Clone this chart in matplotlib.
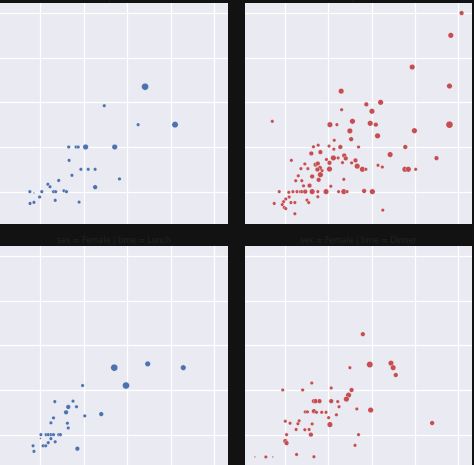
"""Tips facet grid (sex x time): tip vs total_bill, marker area by party size."""

import numpy as np
import matplotlib
matplotlib.use("Agg")
import matplotlib.pyplot as plt

BG = "#121212"
PANEL = "#EAEAF2"
TXT = "#232323"
COL = {"Lunch": "#4C72B0", "Dinner": "#C44E52"}
W, H = 474, 465

# sex = Male | time = Lunch
ml_bill = [34.1, 41.0, 24.7, 32.5, 16.5, 18.2, 18.7, 20.4, 27.1, 16.6, 17.25, 19.3, 21.0, 22.6, 28.2, 22.6,
           14.2, 11.7, 12.2, 10.3, 7.55, 8.5, 9.8, 13.0, 13.5, 15.4, 16.0, 7.6, 8.5, 13.4, 18.9]
ml_tip = [6.7, 5.0, 5.85, 5.0, 4.0, 4.0, 4.0, 4.0, 4.0, 3.4, 2.73, 3.0, 3.0, 3.0, 2.57, 2.2,
          2.5, 2.33, 2.22, 2.0, 2.0, 1.94, 1.76, 2.0, 2.0, 2.04, 2.0, 1.47, 1.52, 1.61, 1.53]
ml_size = [6, 5, 2, 2, 2, 2, 2, 4, 4, 2, 2, 2, 2, 2, 2, 3,
           2, 2, 2, 2, 2, 1, 2, 2, 2, 2, 2, 2, 2, 2, 2]

# sex = Male | time = Dinner
md_bill = [50.8, 48.3, 39.4, 48.0, 48.0, 23.0, 23.1, 7.1, 28.8, 32.1, 30.1, 25.6, 20.4, 22.0, 29.7, 31.0,
           25.0, 31.4, 39.9, 25.3, 37.8, 34.3, 45.0, 37.7, 38.5, 40.2, 32.6, 31.5, 32.5, 30.2, 28.3, 27.9,
           26.7, 21.4, 16.6, 17.7, 20.2, 21.3, 22.8, 27.0, 16.1, 18.2, 19.6, 20.3, 21.2, 22.3, 23.7, 24.05,
           23.3, 26.3, 25.4, 28.7, 11.5, 14.6, 13.7, 15.3, 17.1, 17.6, 18.1, 17.5, 18.6, 18.2, 17.8, 16.3,
           15.7, 13.1, 12.5, 13.9, 14.3, 20.6, 23.6, 20.3, 8.7, 10.9, 11.85, 12.8, 13.6, 13.9, 14.7, 16.3,
           17.6, 19.5, 22.4, 23.6, 24.35, 11.0, 10.2, 9.7, 9.4, 9.86, 10.2, 11.4, 12.3, 7.55, 15.1, 15.5,
           17.6, 12.3]
md_tip = [10.0, 9.0, 7.58, 6.73, 5.0, 6.5, 5.67, 5.15, 5.91, 6.0, 5.6, 5.15, 5.0, 5.0, 5.06, 5.0,
          4.72, 4.5, 4.73, 4.35, 4.0, 3.66, 3.5, 3.0, 3.0, 3.0, 1.17, 3.18, 3.1, 2.0, 2.03, 3.0,
          3.14, 4.3, 4.01, 4.08, 4.04, 3.9, 4.0, 4.0, 3.71, 3.77, 3.44, 3.29, 3.51, 3.51, 3.62, 3.49,
          3.3, 3.4, 3.29, 3.0, 3.4, 3.24, 3.03, 3.03, 3.21, 3.26, 3.06, 2.99, 2.94, 2.76, 2.53, 2.68,
          2.27, 2.71, 2.49, 2.49, 2.26, 2.24, 2.55, 3.01, 2.0, 1.97, 2.0, 2.0, 2.0, 2.0, 2.0, 2.0,
          2.0, 2.0, 2.0, 2.0, 2.0, 1.76, 1.67, 1.55, 1.42, 1.29, 1.24, 1.51, 1.51, 1.47, 1.62, 1.51,
          1.77, 1.01]
md_size = [3, 4, 4, 4, 6, 4, 2, 2, 3, 4, 4, 4, 4, 2, 4, 3,
           4, 4, 4, 3, 3, 4, 3, 4, 4, 2, 2, 2, 2, 4, 3, 4,
           4, 2, 2, 2, 2, 2, 3, 2, 3, 3, 2, 3, 4, 2, 3, 3,
           2, 3, 2, 2, 2, 2, 2, 2, 3, 3, 3, 3, 2, 4, 3, 3,
           3, 2, 2, 2, 2, 2, 2, 4, 2, 2, 2, 2, 2, 2, 3, 4,
           2, 4, 2, 4, 2, 2, 2, 2, 2, 2, 2, 2, 2, 2, 2, 2,
           2, 2]

# sex = Female | time = Lunch
fl_bill = [27.0, 29.7, 34.7, 42.9, 24.0, 19.7, 20.2, 17.5, 18.3, 16.4, 15.9, 13.3, 13.0, 12.4, 16.2, 16.4,
           18.5, 10.1, 11.3, 11.8, 12.4, 13.0, 14.2, 14.6, 10.0, 12.4, 13.4, 11.8, 10.6, 11.2, 8.3, 8.5]
fl_tip = [5.0, 4.2, 5.17, 5.0, 2.92, 4.2, 2.84, 3.5, 3.25, 3.24, 3.0, 3.48, 2.75, 2.53, 2.51, 2.3,
          1.37, 2.0, 2.0, 2.0, 2.0, 2.0, 2.0, 2.0, 1.83, 1.82, 1.68, 1.64, 1.5, 1.5, 1.5, 1.25]
fl_size = [6, 6, 4, 4, 3, 2, 2, 2, 2, 3, 3, 2, 2, 2, 2, 2,
           3, 2, 2, 2, 2, 2, 2, 2, 1, 2, 2, 2, 2, 2, 2, 2]

# sex = Female | time = Dinner
fd_bill = [28.0, 29.6, 34.5, 35.0, 35.6, 25.0, 29.8, 44.0, 25.4, 24.7, 24.2, 20.7, 16.2, 9.5, 14.1, 16.7,
           17.1, 18.0, 20.7, 22.2, 22.5, 14.7, 15.2, 16.7, 17.3, 18.5, 19.5, 21.9, 20.1, 26.6, 20.4, 10.1,
           11.2, 13.3, 13.0, 16.3, 12.6, 14.6, 15.6, 10.4, 16.0, 27.0, 10.1, 10.4, 26.2, 12.7, 16.7, 3.07,
           5.6, 7.2]
fd_tip = [6.5, 5.14, 5.2, 5.0, 4.67, 5.0, 3.1, 2.52, 4.0, 3.77, 3.59, 4.09, 4.31, 4.0, 4.0, 3.5,
          3.5, 3.5, 3.5, 3.48, 3.25, 3.02, 3.02, 3.05, 3.0, 3.0, 3.0, 2.89, 2.76, 3.15, 2.45, 2.6,
          2.51, 2.62, 2.49, 2.48, 2.23, 2.22, 2.23, 2.0, 2.0, 2.0, 1.71, 1.62, 1.52, 1.11, 1.01, 1.0,
          1.0, 1.0]
fd_size = [3, 5, 4, 4, 3, 2, 4, 3, 3, 4, 4, 2, 2, 2, 2, 3,
           3, 3, 3, 2, 2, 2, 2, 3, 2, 2, 2, 2, 2, 2, 4, 2,
           2, 2, 2, 2, 2, 2, 2, 2, 3, 2, 3, 3, 2, 2, 2, 1,
           2, 1]

SEXES = ["Male", "Female"]
TIMES = ["Lunch", "Dinner"]
XTICKS = [10, 20, 30, 40, 50]
YTICKS = [2, 4, 6, 8, 10]


def _area(size):
    # linear size -> marker area, party of 1..6
    return 1.5 + (np.asarray(size) - 1) / 5 * 24.0


def _rect(l, r, t, b):
    return [l / W, 1 - b / H, (r - l) / W, (b - t) / H]


def main():
    data = {("Male", "Lunch"): (ml_bill, ml_tip, ml_size),
            ("Male", "Dinner"): (md_bill, md_tip, md_size),
            ("Female", "Lunch"): (fl_bill, fl_tip, fl_size),
            ("Female", "Dinner"): (fd_bill, fd_tip, fd_size)}
    cols = [(0, 228), (244.5, 472)]
    rows = [(3, 224), (246, 467)]

    fig = plt.figure(figsize=(W / 100, H / 100), dpi=100, facecolor=BG)
    for i, sex in enumerate(SEXES):
        for j, time in enumerate(TIMES):
            ax = fig.add_axes(_rect(*cols[j], *rows[i]))
            ax.set_facecolor(PANEL)
            for s in ax.spines.values():
                s.set_visible(False)
            ax.set_axisbelow(True)
            ax.grid(True, color="white", lw=0.9)
            bill, tip, size = data[(sex, time)]
            ax.scatter(bill, tip, s=_area(size), color=COL[time],
                       edgecolor="white", linewidth=0.2, zorder=3)
            ax.set_xlim(0.68, 53.2)
            ax.set_ylim(0.55, 10.45)
            ax.set_xticks(XTICKS)
            ax.set_yticks(YTICKS)
            ax.tick_params(length=0, colors=TXT, labelsize=6)
            if j > 0:
                ax.set_yticklabels([])
            if i == 0:
                ax.set_xticklabels([])
            # dark-on-dark facet titles; the top row's sit just above the canvas
            ax.set_title(f"sex = {sex} | time = {time}", fontsize=5.7, color=TXT, pad=2.5)
            if i == 1:
                ax.set_xlabel("total_bill", color=TXT)
            if j == 0:
                ax.set_ylabel("tip", color=TXT)

    fig.savefig("out.png", dpi=100, facecolor=BG)
    plt.close(fig)


if __name__ == "__main__":
    main()
